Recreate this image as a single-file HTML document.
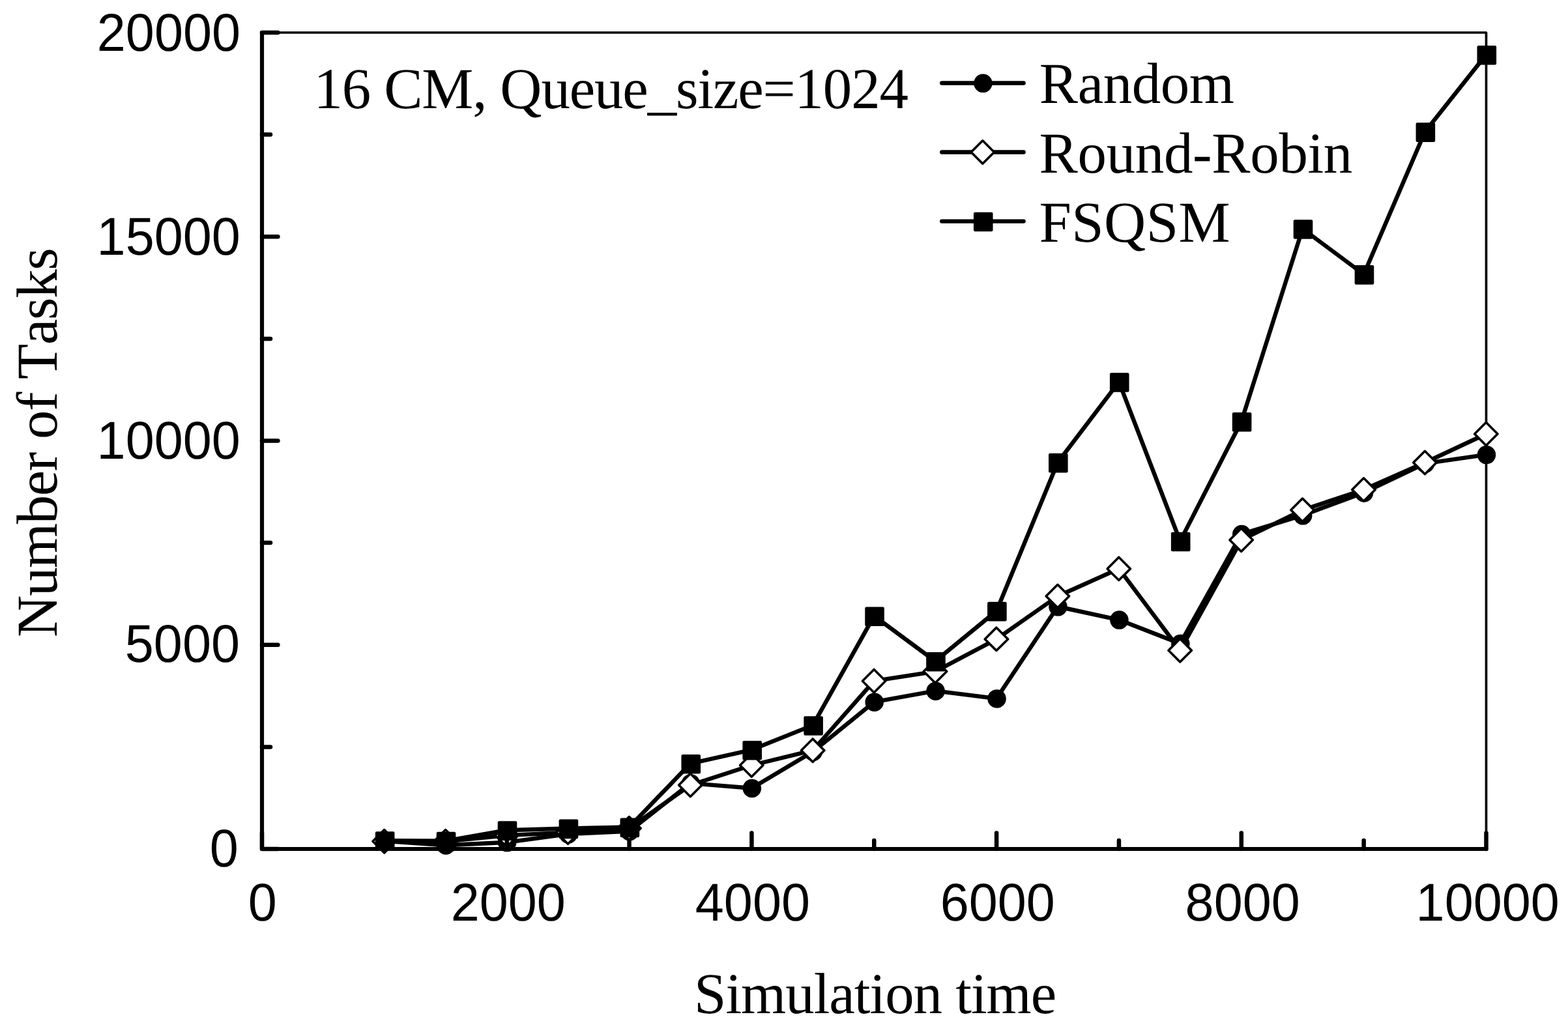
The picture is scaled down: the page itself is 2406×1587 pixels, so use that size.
<!DOCTYPE html>
<html lang="en"><head><meta charset="utf-8"><title>Number of Tasks vs Simulation time</title>
<style>html,body{margin:0;padding:0;background:#fff;}body{width:2406px;height:1587px;overflow:hidden;}svg{display:block;}
text{font-kerning:none;text-rendering:geometricPrecision;}
.tk{font-family:"Liberation Sans", "DejaVu Sans", sans-serif;font-size:79.2px;fill:#000;}
.sf{font-family:"Liberation Serif", "DejaVu Serif", serif;font-size:88.9px;fill:#000;}
</style></head><body>
<svg role="img" aria-label="Number of Tasks versus Simulation time" width="2406" height="1587" viewBox="0 0 2406 1587">
<rect x="0" y="0" width="2406" height="1587" fill="#fff"/>
<g fill="none" stroke="#000" stroke-linecap="round" stroke-linejoin="round">
<path d="M402.00 50.00 H2280.50 V1303.00" stroke-width="3.7"/>
</g>
<g class="tk" text-anchor="end">
<text id="y20000" transform="translate(369.00 78.00) scale(1 1.033)">20000</text>
<text id="y15000" transform="translate(368.80 391.05) scale(1 1.033)">15000</text>
<text id="y10000" transform="translate(368.80 703.60) scale(1 1.033)">10000</text>
<text id="y5000" transform="translate(368.00 1015.85) scale(1 1.033)">5000</text>
<text id="y0" transform="translate(365.90 1329.90) scale(1 1.033)">0</text>
</g>
<g class="tk" text-anchor="middle">
<text id="x0" transform="translate(402.80 1412.60) scale(1 1.033)">0</text>
<text id="x2000" transform="translate(779.80 1412.60) scale(1 1.033)">2000</text>
<text id="x4000" transform="translate(1154.90 1412.60) scale(1 1.033)">4000</text>
<text id="x6000" transform="translate(1530.75 1412.60) scale(1 1.033)">6000</text>
<text id="x8000" transform="translate(1906.70 1412.60) scale(1 1.033)">8000</text>
<text id="x10000" transform="translate(2282.70 1412.60) scale(1 1.033)">10000</text>
</g>
<text id="sim" class="sf" transform="translate(1064.98 1554.80)" style="letter-spacing:-1.012px">Simulation time</text>
<text id="num" class="sf" transform="translate(86.70 977.92) rotate(-90)" style="letter-spacing:-1.38px">Number of Tasks</text>
<text id="ann" class="sf" transform="translate(481.48 165.80)" style="letter-spacing:-1.143px">16 CM, Queue_size=1024</text>
<g stroke="#000" stroke-linecap="round" stroke-linejoin="round">
<polyline points="589.85,1290.90 683.77,1297.20 777.70,1292.80 871.62,1280.00 965.55,1275.90 1059.47,1202.10 1153.40,1209.70 1247.33,1153.70 1341.25,1077.40 1435.17,1060.40 1529.10,1072.10 1623.03,931.00 1716.95,951.30 1810.88,987.70 1904.80,819.70 1998.72,791.00 2092.65,756.20 2186.57,711.30 2280.50,697.80" fill="none" stroke-width="6.4"/>
<g fill="#000" stroke="none"><circle cx="590.30" cy="1291.20" r="14.25"/><circle cx="684.23" cy="1297.50" r="14.25"/><circle cx="778.15" cy="1293.10" r="14.25"/><circle cx="872.08" cy="1280.30" r="14.25"/><circle cx="966.00" cy="1276.20" r="14.25"/><circle cx="1059.92" cy="1202.40" r="14.25"/><circle cx="1153.85" cy="1210.00" r="14.25"/><circle cx="1247.78" cy="1154.00" r="14.25"/><circle cx="1341.70" cy="1077.70" r="14.25"/><circle cx="1435.62" cy="1060.70" r="14.25"/><circle cx="1529.55" cy="1072.40" r="14.25"/><circle cx="1623.48" cy="931.30" r="14.25"/><circle cx="1717.40" cy="951.60" r="14.25"/><circle cx="1811.33" cy="988.00" r="14.25"/><circle cx="1905.25" cy="820.00" r="14.25"/><circle cx="1999.17" cy="791.30" r="14.25"/><circle cx="2093.10" cy="756.50" r="14.25"/><circle cx="2187.02" cy="711.60" r="14.25"/><circle cx="2280.95" cy="698.10" r="14.25"/></g>
<polyline points="589.85,1291.30 683.77,1291.30 777.70,1282.10 871.62,1277.60 965.55,1271.30 1059.47,1205.00 1153.40,1174.50 1247.33,1151.70 1341.25,1045.20 1435.17,1030.60 1529.10,980.90 1623.03,915.00 1716.95,872.90 1810.88,998.20 1904.80,828.70 1998.72,782.80 2092.65,751.50 2186.57,710.00 2280.50,666.00" fill="none" stroke-width="6.4"/>
<g fill="#fff" stroke-width="3.6"><path d="M589.70 1273.60 l17.70 17.70 l-17.70 17.70 l-17.70 -17.70 z"/><path d="M683.62 1273.60 l17.70 17.70 l-17.70 17.70 l-17.70 -17.70 z"/><path d="M777.55 1264.40 l17.70 17.70 l-17.70 17.70 l-17.70 -17.70 z"/><path d="M871.48 1259.90 l17.70 17.70 l-17.70 17.70 l-17.70 -17.70 z"/><path d="M965.40 1253.60 l17.70 17.70 l-17.70 17.70 l-17.70 -17.70 z"/><path d="M1059.32 1187.30 l17.70 17.70 l-17.70 17.70 l-17.70 -17.70 z"/><path d="M1153.25 1156.80 l17.70 17.70 l-17.70 17.70 l-17.70 -17.70 z"/><path d="M1247.17 1134.00 l17.70 17.70 l-17.70 17.70 l-17.70 -17.70 z"/><path d="M1341.10 1027.50 l17.70 17.70 l-17.70 17.70 l-17.70 -17.70 z"/><path d="M1435.02 1012.90 l17.70 17.70 l-17.70 17.70 l-17.70 -17.70 z"/><path d="M1528.95 963.20 l17.70 17.70 l-17.70 17.70 l-17.70 -17.70 z"/><path d="M1622.88 897.30 l17.70 17.70 l-17.70 17.70 l-17.70 -17.70 z"/><path d="M1716.80 855.20 l17.70 17.70 l-17.70 17.70 l-17.70 -17.70 z"/><path d="M1810.72 980.50 l17.70 17.70 l-17.70 17.70 l-17.70 -17.70 z"/><path d="M1904.65 811.00 l17.70 17.70 l-17.70 17.70 l-17.70 -17.70 z"/><path d="M1998.57 765.10 l17.70 17.70 l-17.70 17.70 l-17.70 -17.70 z"/><path d="M2092.50 733.80 l17.70 17.70 l-17.70 17.70 l-17.70 -17.70 z"/><path d="M2186.42 692.30 l17.70 17.70 l-17.70 17.70 l-17.70 -17.70 z"/><path d="M2280.35 648.30 l17.70 17.70 l-17.70 17.70 l-17.70 -17.70 z"/></g>
<polyline points="589.85,1290.12 683.77,1290.62 777.70,1274.22 871.62,1271.52 965.55,1269.52 1059.47,1171.82 1153.40,1150.82 1247.33,1113.12 1341.25,945.42 1435.17,1014.82 1529.10,937.72 1623.03,709.72 1716.95,586.12 1810.88,830.62 1904.80,646.92 1998.72,351.12 2092.65,421.02 2186.57,202.22 2280.50,83.82" fill="none" stroke-width="6.4"/>
<g fill="#000" stroke="none"><rect x="575.85" y="1276.20" width="29.60" height="29.60" rx="2.2"/><rect x="669.77" y="1276.70" width="29.60" height="29.60" rx="2.2"/><rect x="763.70" y="1260.30" width="29.60" height="29.60" rx="2.2"/><rect x="857.62" y="1257.60" width="29.60" height="29.60" rx="2.2"/><rect x="951.55" y="1255.60" width="29.60" height="29.60" rx="2.2"/><rect x="1045.47" y="1157.90" width="29.60" height="29.60" rx="2.2"/><rect x="1139.40" y="1136.90" width="29.60" height="29.60" rx="2.2"/><rect x="1233.33" y="1099.20" width="29.60" height="29.60" rx="2.2"/><rect x="1327.25" y="931.50" width="29.60" height="29.60" rx="2.2"/><rect x="1421.17" y="1000.90" width="29.60" height="29.60" rx="2.2"/><rect x="1515.10" y="923.80" width="29.60" height="29.60" rx="2.2"/><rect x="1609.03" y="695.80" width="29.60" height="29.60" rx="2.2"/><rect x="1702.95" y="572.20" width="29.60" height="29.60" rx="2.2"/><rect x="1796.88" y="816.70" width="29.60" height="29.60" rx="2.2"/><rect x="1890.80" y="633.00" width="29.60" height="29.60" rx="2.2"/><rect x="1984.72" y="337.20" width="29.60" height="29.60" rx="2.2"/><rect x="2078.65" y="407.10" width="29.60" height="29.60" rx="2.2"/><rect x="2172.57" y="188.30" width="29.60" height="29.60" rx="2.2"/><rect x="2266.50" y="69.90" width="29.60" height="29.60" rx="2.2"/></g>
</g>
<g fill="none" stroke="#000" stroke-linecap="round" stroke-linejoin="round">
<path d="M402.00 50.00 V1303.00 H2280.50" stroke-width="6.2"/>
<path d="M402.00 1303.00 V1278.60 M589.85 1303.00 V1290.00 M777.70 1303.00 V1278.60 M965.55 1303.00 V1290.00 M1153.40 1303.00 V1278.60 M1341.25 1303.00 V1290.00 M1529.10 1303.00 V1278.60 M1716.95 1303.00 V1290.00 M1904.80 1303.00 V1278.60 M2092.65 1303.00 V1290.00 M2280.50 1303.00 V1278.60 M402.00 1303.00 H426.40 M402.00 1146.38 H415.00 M402.00 989.75 H426.40 M402.00 833.12 H415.00 M402.00 676.50 H426.40 M402.00 519.88 H415.00 M402.00 363.25 H426.40 M402.00 206.62 H415.00 M402.00 50.00 H426.40" stroke-width="6.5"/>
</g>
<g stroke="#000" stroke-linecap="round" stroke-linejoin="round">
<path d="M1445.25 127.50 H1570.65" fill="none" stroke-width="6.4"/>
<path d="M1445.25 233.55 H1570.65" fill="none" stroke-width="6.4"/>
<path d="M1445.25 339.60 H1570.65" fill="none" stroke-width="6.4"/>
<g fill="#000" stroke="none"><circle cx="1508.40" cy="127.80" r="14.25"/></g>
<g fill="#fff" stroke-width="3.6"><path d="M1507.80 215.85 l17.70 17.70 l-17.70 17.70 l-17.70 -17.70 z"/></g>
<g fill="#000" stroke="none"><rect x="1493.95" y="325.68" width="29.60" height="29.60" rx="2.2"/></g>
</g>
<text id="random" class="sf" transform="translate(1594.74 158.40)" style="letter-spacing:-0.389px">Random</text>
<text id="rr" class="sf" transform="translate(1594.59 264.80)" style="letter-spacing:-0.327px">Round-Robin</text>
<text id="fsqsm" class="sf" transform="translate(1594.59 370.80)" style="letter-spacing:0.329px">FSQSM</text>
</svg>
</body></html>
